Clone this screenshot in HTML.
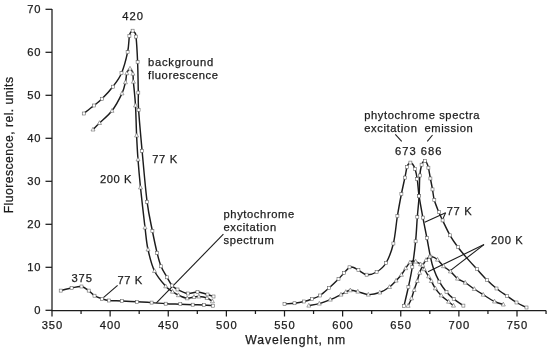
<!DOCTYPE html>
<html><head><meta charset="utf-8"><title>Fluorescence spectra</title>
<style>html,body{margin:0;padding:0;background:#fff}svg{display:block}</style></head>
<body>
<svg width="550" height="351" viewBox="0 0 550 351">
<rect width="550" height="351" fill="#fff"/>
<g stroke="#1c1c1c" stroke-width="1.25" fill="none">
<path d="M52.00 9 V310.50 H546"/>
<path d="M45.5 310.30 H52.00"/>
<path d="M45.5 267.30 H52.00"/>
<path d="M45.5 224.30 H52.00"/>
<path d="M45.5 181.30 H52.00"/>
<path d="M45.5 138.30 H52.00"/>
<path d="M45.5 95.30 H52.00"/>
<path d="M45.5 52.30 H52.00"/>
<path d="M45.5 9.30 H52.00"/>
<path d="M52.00 310.50 V316.50"/>
<path d="M81.06 310.50 V314.00"/>
<path d="M110.12 310.50 V316.50"/>
<path d="M139.19 310.50 V314.00"/>
<path d="M168.25 310.50 V316.50"/>
<path d="M197.31 310.50 V314.00"/>
<path d="M226.38 310.50 V316.50"/>
<path d="M255.44 310.50 V314.00"/>
<path d="M284.50 310.50 V316.50"/>
<path d="M313.56 310.50 V314.00"/>
<path d="M342.62 310.50 V316.50"/>
<path d="M371.69 310.50 V314.00"/>
<path d="M400.75 310.50 V316.50"/>
<path d="M429.81 310.50 V314.00"/>
<path d="M458.88 310.50 V316.50"/>
<path d="M487.94 310.50 V314.00"/>
<path d="M517.00 310.50 V316.50"/>
<path d="M546.06 310.50 V314.00"/>
</g>
<g stroke="#1c1c1c" stroke-width="1.1" fill="none">
<path d="M117.6 285.3 L103.4 297.7"/>
<path d="M223.4 234.2 L156.4 302.8"/>
<path d="M395.3 134.3 L401.7 141.3"/>
<path d="M432.5 135.0 L427.3 141.3"/>
<path d="M445.6 212.7 L424.7 222.2"/>
<path d="M445.6 212.7 L442.7 219.4"/>
<path d="M484.0 244.6 L428.0 271.7"/>
<path d="M484.0 244.6 L450.6 270.4"/>
</g>
<g stroke="#1c1c1c" stroke-width="1.45" fill="none" stroke-linejoin="round">
<path d="M83.75 113.50 C85.46 112.17 90.96 107.96 94.00 105.50 C97.04 103.04 98.87 101.88 102.00 98.75 C105.13 95.62 109.55 90.96 112.80 86.70 C116.05 82.44 119.03 78.95 121.50 73.20 C123.97 67.45 126.28 58.43 127.60 52.20 C128.92 45.97 128.82 39.20 129.40 35.80 C129.98 32.40 130.57 32.65 131.10 31.80 C131.63 30.95 132.05 30.60 132.60 30.70 C133.15 30.80 133.83 31.42 134.40 32.40 C134.97 33.38 135.47 31.67 136.00 36.60 C136.53 41.53 137.22 52.67 137.60 62.00 C137.98 71.33 138.13 84.63 138.30 92.60 C138.47 100.57 137.97 100.10 138.60 109.80 C139.23 119.50 140.68 135.47 142.10 150.80 C143.52 166.13 145.38 188.43 147.10 201.80 C148.82 215.17 150.73 222.50 152.40 231.00 C154.07 239.50 155.67 246.92 157.10 252.80 C158.53 258.68 159.35 262.22 161.00 266.30 C162.65 270.38 165.17 274.10 167.00 277.30 C168.83 280.50 170.25 283.47 172.00 285.50 C173.75 287.53 174.83 288.17 177.50 289.50 C180.17 290.83 184.67 293.08 188.00 293.50 C191.33 293.92 194.25 291.83 197.50 292.00 C200.75 292.17 204.83 293.75 207.50 294.50 C210.17 295.25 212.50 296.17 213.50 296.50"/>
<path d="M93.00 129.50 C94.08 128.42 96.33 126.12 99.50 123.00 C102.67 119.88 108.25 115.73 112.00 110.80 C115.75 105.87 119.77 98.15 122.00 93.40 C124.23 88.65 124.60 85.67 125.40 82.30 C126.20 78.93 126.28 75.27 126.80 73.20 C127.32 71.13 127.97 70.67 128.50 69.90 C129.03 69.13 129.48 68.57 130.00 68.60 C130.52 68.63 131.12 69.25 131.60 70.10 C132.08 70.95 132.60 71.77 132.90 73.70 C133.20 75.63 132.97 76.40 133.40 81.70 C133.83 87.00 134.97 96.53 135.50 105.50 C136.03 114.47 136.18 126.50 136.60 135.50 C137.02 144.50 137.35 150.83 138.00 159.50 C138.65 168.17 139.33 176.17 140.50 187.50 C141.67 198.83 143.75 217.17 145.00 227.50 C146.25 237.83 146.42 242.25 148.00 249.50 C149.58 256.75 151.55 264.87 154.50 271.00 C157.45 277.13 162.70 282.85 165.70 286.30 C168.70 289.75 170.38 290.22 172.50 291.70 C174.62 293.18 175.95 294.10 178.40 295.20 C180.85 296.30 184.60 298.00 187.20 298.30 C189.80 298.60 192.05 297.30 194.00 297.00 C195.95 296.70 196.73 296.33 198.90 296.50 C201.07 296.67 204.75 297.20 207.00 298.00 C209.25 298.80 211.50 300.75 212.40 301.30"/>
<path d="M60.70 290.60 C62.52 290.17 68.13 288.68 71.60 288.00 C75.07 287.32 78.65 286.07 81.50 286.50 C84.35 286.93 86.53 289.07 88.70 290.60 C90.87 292.13 92.30 294.33 94.50 295.70 C96.70 297.07 99.48 298.00 101.90 298.80 C104.32 299.60 105.68 300.13 109.00 300.50 C112.32 300.87 117.13 300.78 121.80 301.00 C126.47 301.22 132.03 301.53 137.00 301.80 C141.97 302.07 146.82 302.28 151.60 302.60 C156.38 302.92 160.92 303.43 165.70 303.70 C170.48 303.97 175.80 304.03 180.30 304.20 C184.80 304.37 188.78 304.57 192.70 304.70 C196.62 304.83 200.43 304.83 203.80 305.00 C207.17 305.17 211.38 305.58 212.90 305.70"/>
<path d="M284.50 304.00 C286.17 303.88 291.25 303.67 294.50 303.25 C297.75 302.83 301.08 302.21 304.00 301.50 C306.92 300.79 309.33 300.00 312.00 299.00 C314.67 298.00 317.17 297.33 320.00 295.50 C322.83 293.67 325.92 290.75 329.00 288.00 C332.08 285.25 336.00 281.50 338.50 279.00 C341.00 276.50 342.17 274.95 344.00 273.00 C345.83 271.05 347.90 268.22 349.50 267.30 C351.10 266.38 352.12 267.02 353.60 267.50 C355.08 267.98 356.23 269.00 358.40 270.20 C360.57 271.40 363.57 274.40 366.60 274.70 C369.63 275.00 373.37 273.95 376.60 272.00 C379.83 270.05 383.20 267.75 386.00 263.00 C388.80 258.25 391.50 251.33 393.40 243.50 C395.30 235.67 396.07 224.25 397.40 216.00 C398.73 207.75 400.15 200.40 401.40 194.00 C402.65 187.60 403.97 182.10 404.90 177.60 C405.83 173.10 406.38 169.28 407.00 167.00 C407.62 164.72 408.03 164.63 408.60 163.90 C409.17 163.17 409.72 162.55 410.40 162.60 C411.08 162.65 411.93 163.17 412.70 164.20 C413.47 165.23 414.25 166.33 415.00 168.80 C415.75 171.27 416.52 174.43 417.20 179.00 C417.88 183.57 418.15 189.77 419.10 196.20 C420.05 202.63 421.60 210.63 422.90 217.60 C424.20 224.57 425.65 231.50 426.90 238.00 C428.15 244.50 429.32 251.55 430.40 256.60 C431.48 261.65 431.92 264.12 433.40 268.30 C434.88 272.48 437.12 277.75 439.30 281.70 C441.48 285.65 444.10 289.13 446.50 292.00 C448.90 294.87 450.88 296.63 453.70 298.90 C456.52 301.17 461.78 304.48 463.40 305.60"/>
<path d="M308.80 305.60 C310.55 305.27 315.72 304.60 319.30 303.60 C322.88 302.60 326.68 301.10 330.30 299.60 C333.92 298.10 338.42 295.87 341.00 294.60 C343.58 293.33 344.25 292.72 345.80 292.00 C347.35 291.28 348.30 290.37 350.30 290.30 C352.30 290.23 354.80 290.88 357.80 291.60 C360.80 292.32 364.63 294.45 368.30 294.60 C371.97 294.75 376.27 293.77 379.80 292.50 C383.33 291.23 386.78 288.98 389.50 287.00 C392.22 285.02 394.12 282.63 396.10 280.60 C398.08 278.57 399.80 276.87 401.40 274.80 C403.00 272.73 404.27 270.28 405.70 268.20 C407.13 266.12 408.78 263.52 410.00 262.30 C411.22 261.08 412.05 261.02 413.00 260.90 C413.95 260.78 414.43 261.03 415.70 261.60 C416.97 262.17 419.18 263.03 420.60 264.30 C422.02 265.57 422.87 267.18 424.20 269.20 C425.53 271.22 427.42 274.43 428.60 276.40 C429.78 278.37 430.18 279.02 431.30 281.00 C432.42 282.98 433.65 285.90 435.30 288.30 C436.95 290.70 438.98 293.17 441.20 295.40 C443.42 297.63 446.55 300.00 448.60 301.70 C450.65 303.40 452.68 304.95 453.50 305.60"/>
<path d="M404.00 305.80 C404.73 302.67 407.02 293.47 408.40 287.00 C409.78 280.53 411.10 274.62 412.30 267.00 C413.50 259.38 414.77 249.60 415.60 241.30 C416.43 233.00 416.72 224.72 417.30 217.20 C417.88 209.68 418.68 203.15 419.10 196.20 C419.52 189.25 419.38 180.75 419.80 175.50 C420.22 170.25 421.03 166.98 421.60 164.70 C422.17 162.42 422.67 162.45 423.20 161.80 C423.73 161.15 424.20 160.60 424.80 160.80 C425.40 161.00 426.20 161.85 426.80 163.00 C427.40 164.15 427.80 165.12 428.40 167.70 C429.00 170.28 429.72 174.88 430.40 178.50 C431.08 182.12 431.85 185.82 432.50 189.40 C433.15 192.98 433.25 196.22 434.30 200.00 C435.35 203.78 437.42 208.70 438.80 212.10 C440.18 215.50 440.73 216.53 442.60 220.40 C444.47 224.27 447.47 230.87 450.00 235.30 C452.53 239.73 455.20 243.45 457.80 247.00 C460.40 250.55 462.43 252.93 465.60 256.60 C468.77 260.27 473.23 265.10 476.80 269.00 C480.37 272.90 483.72 276.75 487.00 280.00 C490.28 283.25 493.17 285.83 496.50 288.50 C499.83 291.17 503.67 293.67 507.00 296.00 C510.33 298.33 513.25 300.58 516.50 302.50 C519.75 304.42 524.83 306.67 526.50 307.50"/>
<path d="M408.10 305.80 C408.67 304.57 410.50 301.03 411.50 298.40 C412.50 295.77 413.15 292.90 414.10 290.00 C415.05 287.10 416.28 283.87 417.20 281.00 C418.12 278.13 418.67 275.40 419.60 272.80 C420.53 270.20 421.73 267.53 422.80 265.40 C423.87 263.27 424.82 261.47 426.00 260.00 C427.18 258.53 428.65 257.07 429.90 256.60 C431.15 256.13 432.23 256.68 433.50 257.20 C434.77 257.72 435.83 258.20 437.50 259.70 C439.17 261.20 441.35 264.25 443.50 266.20 C445.65 268.15 448.07 269.33 450.40 271.40 C452.73 273.47 455.03 276.72 457.50 278.60 C459.97 280.48 462.40 280.97 465.20 282.70 C468.00 284.43 471.30 287.00 474.30 289.00 C477.30 291.00 479.83 292.62 483.20 294.70 C486.57 296.78 491.15 299.87 494.50 301.50 C497.85 303.13 501.83 304.00 503.30 304.50"/>
</g>
<g stroke="#5c5c5c" stroke-width="0.55" fill="#fff">
<rect x="82.25" y="112.00" width="3.0" height="3.0"/>
<rect x="92.50" y="104.00" width="3.0" height="3.0"/>
<rect x="100.50" y="97.25" width="3.0" height="3.0"/>
<rect x="111.30" y="85.20" width="3.0" height="3.0"/>
<rect x="120.00" y="71.70" width="3.0" height="3.0"/>
<rect x="126.10" y="50.70" width="3.0" height="3.0"/>
<rect x="127.90" y="34.30" width="3.0" height="3.0"/>
<rect x="131.10" y="29.20" width="3.0" height="3.0"/>
<rect x="134.50" y="35.10" width="3.0" height="3.0"/>
<rect x="136.10" y="60.50" width="3.0" height="3.0"/>
<rect x="136.80" y="91.10" width="3.0" height="3.0"/>
<rect x="137.10" y="108.30" width="3.0" height="3.0"/>
<rect x="140.60" y="149.30" width="3.0" height="3.0"/>
<rect x="145.60" y="200.30" width="3.0" height="3.0"/>
<rect x="150.90" y="229.50" width="3.0" height="3.0"/>
<rect x="155.60" y="251.30" width="3.0" height="3.0"/>
<rect x="159.50" y="264.80" width="3.0" height="3.0"/>
<rect x="165.50" y="275.80" width="3.0" height="3.0"/>
<rect x="170.50" y="284.00" width="3.0" height="3.0"/>
<rect x="176.00" y="288.00" width="3.0" height="3.0"/>
<rect x="186.50" y="292.00" width="3.0" height="3.0"/>
<rect x="196.00" y="290.50" width="3.0" height="3.0"/>
<rect x="206.00" y="293.00" width="3.0" height="3.0"/>
<rect x="212.00" y="295.00" width="3.0" height="3.0"/>
<path d="M93.00 127.20 L95.00 131.00 L91.00 131.00 Z"/>
<path d="M99.50 120.70 L101.50 124.50 L97.50 124.50 Z"/>
<path d="M112.00 108.50 L114.00 112.30 L110.00 112.30 Z"/>
<path d="M122.00 91.10 L124.00 94.90 L120.00 94.90 Z"/>
<path d="M125.40 80.00 L127.40 83.80 L123.40 83.80 Z"/>
<path d="M126.80 70.90 L128.80 74.70 L124.80 74.70 Z"/>
<path d="M130.00 66.30 L132.00 70.10 L128.00 70.10 Z"/>
<path d="M132.90 71.40 L134.90 75.20 L130.90 75.20 Z"/>
<path d="M133.40 79.40 L135.40 83.20 L131.40 83.20 Z"/>
<path d="M135.50 103.20 L137.50 107.00 L133.50 107.00 Z"/>
<path d="M136.60 133.20 L138.60 137.00 L134.60 137.00 Z"/>
<path d="M138.00 157.20 L140.00 161.00 L136.00 161.00 Z"/>
<path d="M140.50 185.20 L142.50 189.00 L138.50 189.00 Z"/>
<path d="M145.00 225.20 L147.00 229.00 L143.00 229.00 Z"/>
<path d="M148.00 247.20 L150.00 251.00 L146.00 251.00 Z"/>
<path d="M154.50 268.70 L156.50 272.50 L152.50 272.50 Z"/>
<path d="M165.70 284.00 L167.70 287.80 L163.70 287.80 Z"/>
<path d="M172.50 289.40 L174.50 293.20 L170.50 293.20 Z"/>
<path d="M178.40 292.90 L180.40 296.70 L176.40 296.70 Z"/>
<path d="M187.20 296.00 L189.20 299.80 L185.20 299.80 Z"/>
<path d="M194.00 294.70 L196.00 298.50 L192.00 298.50 Z"/>
<path d="M198.90 294.20 L200.90 298.00 L196.90 298.00 Z"/>
<path d="M207.00 295.70 L209.00 299.50 L205.00 299.50 Z"/>
<path d="M212.40 299.00 L214.40 302.80 L210.40 302.80 Z"/>
<rect x="59.20" y="289.10" width="3.0" height="3.0"/>
<rect x="70.10" y="286.50" width="3.0" height="3.0"/>
<rect x="80.00" y="285.00" width="3.0" height="3.0"/>
<rect x="87.20" y="289.10" width="3.0" height="3.0"/>
<rect x="93.00" y="294.20" width="3.0" height="3.0"/>
<rect x="100.40" y="297.30" width="3.0" height="3.0"/>
<rect x="107.50" y="299.00" width="3.0" height="3.0"/>
<rect x="120.30" y="299.50" width="3.0" height="3.0"/>
<rect x="135.50" y="300.30" width="3.0" height="3.0"/>
<rect x="150.10" y="301.10" width="3.0" height="3.0"/>
<rect x="164.20" y="302.20" width="3.0" height="3.0"/>
<rect x="178.80" y="302.70" width="3.0" height="3.0"/>
<rect x="191.20" y="303.20" width="3.0" height="3.0"/>
<rect x="202.30" y="303.50" width="3.0" height="3.0"/>
<rect x="211.40" y="304.20" width="3.0" height="3.0"/>
<rect x="283.00" y="302.50" width="3.0" height="3.0"/>
<rect x="293.00" y="301.75" width="3.0" height="3.0"/>
<rect x="302.50" y="300.00" width="3.0" height="3.0"/>
<rect x="310.50" y="297.50" width="3.0" height="3.0"/>
<rect x="318.50" y="294.00" width="3.0" height="3.0"/>
<rect x="327.50" y="286.50" width="3.0" height="3.0"/>
<rect x="337.00" y="277.50" width="3.0" height="3.0"/>
<rect x="342.50" y="271.50" width="3.0" height="3.0"/>
<rect x="348.00" y="265.80" width="3.0" height="3.0"/>
<rect x="356.90" y="268.70" width="3.0" height="3.0"/>
<rect x="365.10" y="273.20" width="3.0" height="3.0"/>
<rect x="375.10" y="270.50" width="3.0" height="3.0"/>
<rect x="384.50" y="261.50" width="3.0" height="3.0"/>
<rect x="391.90" y="242.00" width="3.0" height="3.0"/>
<rect x="395.90" y="214.50" width="3.0" height="3.0"/>
<rect x="399.90" y="192.50" width="3.0" height="3.0"/>
<rect x="403.40" y="176.10" width="3.0" height="3.0"/>
<rect x="405.50" y="165.50" width="3.0" height="3.0"/>
<rect x="408.90" y="161.10" width="3.0" height="3.0"/>
<rect x="413.50" y="167.30" width="3.0" height="3.0"/>
<rect x="415.70" y="177.50" width="3.0" height="3.0"/>
<rect x="417.60" y="194.70" width="3.0" height="3.0"/>
<rect x="421.40" y="216.10" width="3.0" height="3.0"/>
<rect x="425.40" y="236.50" width="3.0" height="3.0"/>
<rect x="428.90" y="255.10" width="3.0" height="3.0"/>
<rect x="437.80" y="280.20" width="3.0" height="3.0"/>
<rect x="445.00" y="290.50" width="3.0" height="3.0"/>
<rect x="452.20" y="297.40" width="3.0" height="3.0"/>
<rect x="461.90" y="304.10" width="3.0" height="3.0"/>
<path d="M308.80 303.30 L310.80 307.10 L306.80 307.10 Z"/>
<path d="M319.30 301.30 L321.30 305.10 L317.30 305.10 Z"/>
<path d="M330.30 297.30 L332.30 301.10 L328.30 301.10 Z"/>
<path d="M341.00 292.30 L343.00 296.10 L339.00 296.10 Z"/>
<path d="M345.80 289.70 L347.80 293.50 L343.80 293.50 Z"/>
<path d="M350.30 288.00 L352.30 291.80 L348.30 291.80 Z"/>
<path d="M357.80 289.30 L359.80 293.10 L355.80 293.10 Z"/>
<path d="M368.30 292.30 L370.30 296.10 L366.30 296.10 Z"/>
<path d="M379.80 290.20 L381.80 294.00 L377.80 294.00 Z"/>
<path d="M389.50 284.70 L391.50 288.50 L387.50 288.50 Z"/>
<path d="M396.10 278.30 L398.10 282.10 L394.10 282.10 Z"/>
<path d="M401.40 272.50 L403.40 276.30 L399.40 276.30 Z"/>
<path d="M405.70 265.90 L407.70 269.70 L403.70 269.70 Z"/>
<path d="M410.00 260.00 L412.00 263.80 L408.00 263.80 Z"/>
<path d="M415.70 259.30 L417.70 263.10 L413.70 263.10 Z"/>
<path d="M420.60 262.00 L422.60 265.80 L418.60 265.80 Z"/>
<path d="M424.20 266.90 L426.20 270.70 L422.20 270.70 Z"/>
<path d="M428.60 274.10 L430.60 277.90 L426.60 277.90 Z"/>
<path d="M431.30 278.70 L433.30 282.50 L429.30 282.50 Z"/>
<path d="M435.30 286.00 L437.30 289.80 L433.30 289.80 Z"/>
<path d="M441.20 293.10 L443.20 296.90 L439.20 296.90 Z"/>
<path d="M448.60 299.40 L450.60 303.20 L446.60 303.20 Z"/>
<path d="M453.50 303.30 L455.50 307.10 L451.50 307.10 Z"/>
<rect x="402.50" y="304.30" width="3.0" height="3.0"/>
<rect x="406.90" y="285.50" width="3.0" height="3.0"/>
<rect x="410.80" y="265.50" width="3.0" height="3.0"/>
<rect x="414.10" y="239.80" width="3.0" height="3.0"/>
<rect x="415.80" y="215.70" width="3.0" height="3.0"/>
<rect x="417.60" y="194.70" width="3.0" height="3.0"/>
<rect x="418.30" y="174.00" width="3.0" height="3.0"/>
<rect x="420.10" y="163.20" width="3.0" height="3.0"/>
<rect x="423.30" y="159.30" width="3.0" height="3.0"/>
<rect x="426.90" y="166.20" width="3.0" height="3.0"/>
<rect x="428.90" y="177.00" width="3.0" height="3.0"/>
<rect x="431.00" y="187.90" width="3.0" height="3.0"/>
<rect x="432.80" y="198.50" width="3.0" height="3.0"/>
<rect x="437.30" y="210.60" width="3.0" height="3.0"/>
<rect x="441.10" y="218.90" width="3.0" height="3.0"/>
<rect x="448.50" y="233.80" width="3.0" height="3.0"/>
<rect x="456.30" y="245.50" width="3.0" height="3.0"/>
<rect x="475.30" y="267.50" width="3.0" height="3.0"/>
<rect x="485.50" y="278.50" width="3.0" height="3.0"/>
<rect x="495.00" y="287.00" width="3.0" height="3.0"/>
<rect x="505.50" y="294.50" width="3.0" height="3.0"/>
<rect x="515.00" y="301.00" width="3.0" height="3.0"/>
<rect x="525.00" y="306.00" width="3.0" height="3.0"/>
<path d="M408.10 303.50 L410.10 307.30 L406.10 307.30 Z"/>
<path d="M411.50 296.10 L413.50 299.90 L409.50 299.90 Z"/>
<path d="M414.10 287.70 L416.10 291.50 L412.10 291.50 Z"/>
<path d="M417.20 278.70 L419.20 282.50 L415.20 282.50 Z"/>
<path d="M419.60 270.50 L421.60 274.30 L417.60 274.30 Z"/>
<path d="M422.80 263.10 L424.80 266.90 L420.80 266.90 Z"/>
<path d="M426.00 257.70 L428.00 261.50 L424.00 261.50 Z"/>
<path d="M429.90 254.30 L431.90 258.10 L427.90 258.10 Z"/>
<path d="M437.50 257.40 L439.50 261.20 L435.50 261.20 Z"/>
<path d="M443.50 263.90 L445.50 267.70 L441.50 267.70 Z"/>
<path d="M450.40 269.10 L452.40 272.90 L448.40 272.90 Z"/>
<path d="M457.50 276.30 L459.50 280.10 L455.50 280.10 Z"/>
<path d="M465.20 280.40 L467.20 284.20 L463.20 284.20 Z"/>
<path d="M474.30 286.70 L476.30 290.50 L472.30 290.50 Z"/>
<path d="M483.20 292.40 L485.20 296.20 L481.20 296.20 Z"/>
<path d="M494.50 299.20 L496.50 303.00 L492.50 303.00 Z"/>
<path d="M503.30 302.20 L505.30 306.00 L501.30 306.00 Z"/>
</g>
<g fill="#1c1c1c" stroke="#1c1c1c" stroke-width="0.25" font-family="Liberation Sans, Arial, sans-serif" font-size="11.2" letter-spacing="0.6">
<text x="41.6" y="314.3" text-anchor="end" letter-spacing="1.0">0</text>
<text x="41.6" y="271.3" text-anchor="end" letter-spacing="1.0">10</text>
<text x="41.6" y="228.3" text-anchor="end" letter-spacing="1.0">20</text>
<text x="41.6" y="185.3" text-anchor="end" letter-spacing="1.0">30</text>
<text x="41.6" y="142.3" text-anchor="end" letter-spacing="1.0">40</text>
<text x="41.6" y="99.3" text-anchor="end" letter-spacing="1.0">50</text>
<text x="41.6" y="56.3" text-anchor="end" letter-spacing="1.0">60</text>
<text x="41.6" y="13.3" text-anchor="end" letter-spacing="1.0">70</text>
<text x="52.4" y="329.0" text-anchor="middle" letter-spacing="0.95">350</text>
<text x="110.5" y="329.0" text-anchor="middle" letter-spacing="0.95">400</text>
<text x="168.7" y="329.0" text-anchor="middle" letter-spacing="0.95">450</text>
<text x="226.8" y="329.0" text-anchor="middle" letter-spacing="0.95">500</text>
<text x="284.9" y="329.0" text-anchor="middle" letter-spacing="0.95">550</text>
<text x="343.0" y="329.0" text-anchor="middle" letter-spacing="0.95">600</text>
<text x="401.1" y="329.0" text-anchor="middle" letter-spacing="0.95">650</text>
<text x="459.3" y="329.0" text-anchor="middle" letter-spacing="0.95">700</text>
<text x="517.4" y="329.0" text-anchor="middle" letter-spacing="0.95">750</text>
<text x="133.2" y="20.2" text-anchor="middle" letter-spacing="1.0">420</text>
<text x="148.0" y="65.7" letter-spacing="0.75">background</text>
<text x="148.0" y="78.5">fluorescence</text>
<text x="152.3" y="162.5">77 K</text>
<text x="132.2" y="182.5" text-anchor="end">200 K</text>
<text x="71.4" y="281.7" letter-spacing="1.0">375</text>
<text x="117.4" y="284.3">77 K</text>
<text x="223.5" y="217.7">phytochrome</text>
<text x="223.5" y="230.6">excitation</text>
<text x="223.5" y="243.7">spectrum</text>
<text x="364.2" y="118.6">phytochrome spectra</text>
<text x="364.2" y="132.0">excitation</text>
<text x="424.4" y="132.0">emission</text>
<text x="395.0" y="154.7" letter-spacing="1.0">673 686</text>
<text x="446.8" y="215.0">77 K</text>
<text x="491.0" y="244.2">200 K</text>
</g>
<g fill="#1c1c1c" stroke="#1c1c1c" stroke-width="0.25" font-family="Liberation Sans, Arial, sans-serif" font-size="12.2">
<text x="245.2" y="344.4" letter-spacing="0.95">Wavelenght, nm</text>
<text transform="translate(13.4 213.3) rotate(-90)" letter-spacing="0.45">Fluorescence, rel. units</text>
</g>
</svg>
</body></html>
